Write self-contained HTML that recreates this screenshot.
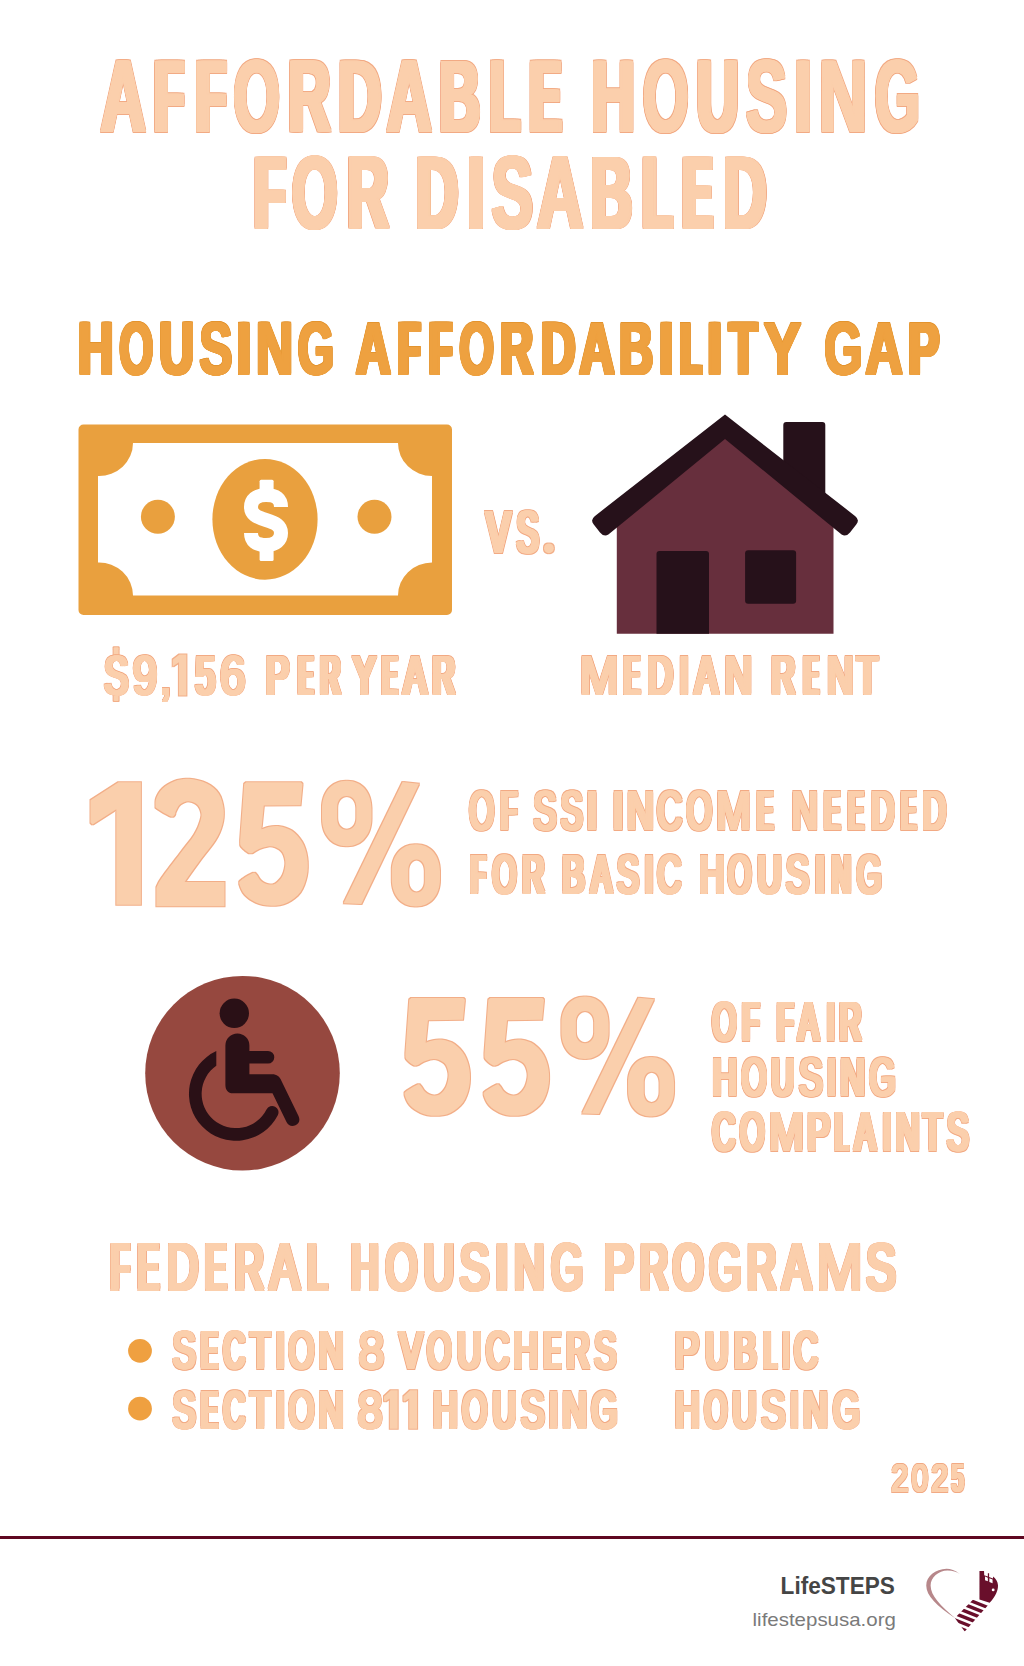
<!DOCTYPE html>
<html><head><meta charset="utf-8"><title>Affordable Housing for Disabled</title>
<style>
html,body{margin:0;padding:0;background:#fff}
body{width:1024px;height:1666px;position:relative;overflow:hidden;font-family:"Liberation Sans",sans-serif}
#art{position:absolute;left:0;top:0;width:1024px;height:1666px}
.p,.o{position:absolute;left:0;top:0;font:bold 100px/100px "Liberation Sans",sans-serif;white-space:pre;transform-origin:0 0;margin:0}
.p{color:#FBCFAC;text-shadow:calc(-1*var(--a)) calc(-1*var(--b)) 0 #FBCFAC,calc(-1*var(--a)) calc(0*var(--b)) 0 #FBCFAC,calc(-1*var(--a)) calc(1*var(--b)) 0 #FBCFAC,calc(-0.5*var(--a)) calc(-1*var(--b)) 0 #FBCFAC,calc(-0.5*var(--a)) calc(0*var(--b)) 0 #FBCFAC,calc(-0.5*var(--a)) calc(1*var(--b)) 0 #FBCFAC,calc(0*var(--a)) calc(-1*var(--b)) 0 #FBCFAC,calc(0*var(--a)) calc(1*var(--b)) 0 #FBCFAC,calc(0.5*var(--a)) calc(-1*var(--b)) 0 #FBCFAC,calc(0.5*var(--a)) calc(0*var(--b)) 0 #FBCFAC,calc(0.5*var(--a)) calc(1*var(--b)) 0 #FBCFAC,calc(1*var(--a)) calc(-1*var(--b)) 0 #FBCFAC,calc(1*var(--a)) calc(0*var(--b)) 0 #FBCFAC,calc(1*var(--a)) calc(1*var(--b)) 0 #FBCFAC,calc(-1*var(--c)) calc(-1*var(--e)) 0 #F2AA84,calc(-1*var(--c)) calc(0*var(--e)) 0 #F2AA84,calc(-1*var(--c)) calc(1*var(--e)) 0 #F2AA84,calc(-0.5*var(--c)) calc(-1*var(--e)) 0 #F2AA84,calc(-0.5*var(--c)) calc(0*var(--e)) 0 #F2AA84,calc(-0.5*var(--c)) calc(1*var(--e)) 0 #F2AA84,calc(0*var(--c)) calc(-1*var(--e)) 0 #F2AA84,calc(0*var(--c)) calc(0*var(--e)) 0 #F2AA84,calc(0*var(--c)) calc(1*var(--e)) 0 #F2AA84,calc(0.5*var(--c)) calc(-1*var(--e)) 0 #F2AA84,calc(0.5*var(--c)) calc(0*var(--e)) 0 #F2AA84,calc(0.5*var(--c)) calc(1*var(--e)) 0 #F2AA84,calc(1*var(--c)) calc(-1*var(--e)) 0 #F2AA84,calc(1*var(--c)) calc(0*var(--e)) 0 #F2AA84,calc(1*var(--c)) calc(1*var(--e)) 0 #F2AA84}
.o{color:#EEA140;text-shadow:calc(-1*var(--a)) calc(-1*var(--b)) 0 #EEA140,calc(-1*var(--a)) calc(0*var(--b)) 0 #EEA140,calc(-1*var(--a)) calc(1*var(--b)) 0 #EEA140,calc(-0.5*var(--a)) calc(-1*var(--b)) 0 #EEA140,calc(-0.5*var(--a)) calc(0*var(--b)) 0 #EEA140,calc(-0.5*var(--a)) calc(1*var(--b)) 0 #EEA140,calc(0*var(--a)) calc(-1*var(--b)) 0 #EEA140,calc(0*var(--a)) calc(1*var(--b)) 0 #EEA140,calc(0.5*var(--a)) calc(-1*var(--b)) 0 #EEA140,calc(0.5*var(--a)) calc(0*var(--b)) 0 #EEA140,calc(0.5*var(--a)) calc(1*var(--b)) 0 #EEA140,calc(1*var(--a)) calc(-1*var(--b)) 0 #EEA140,calc(1*var(--a)) calc(0*var(--b)) 0 #EEA140,calc(1*var(--a)) calc(1*var(--b)) 0 #EEA140,calc(-1*var(--c)) calc(-1*var(--e)) 0 #E3942F,calc(-1*var(--c)) calc(0*var(--e)) 0 #E3942F,calc(-1*var(--c)) calc(1*var(--e)) 0 #E3942F,calc(-0.5*var(--c)) calc(-1*var(--e)) 0 #E3942F,calc(-0.5*var(--c)) calc(0*var(--e)) 0 #E3942F,calc(-0.5*var(--c)) calc(1*var(--e)) 0 #E3942F,calc(0*var(--c)) calc(-1*var(--e)) 0 #E3942F,calc(0*var(--c)) calc(0*var(--e)) 0 #E3942F,calc(0*var(--c)) calc(1*var(--e)) 0 #E3942F,calc(0.5*var(--c)) calc(-1*var(--e)) 0 #E3942F,calc(0.5*var(--c)) calc(0*var(--e)) 0 #E3942F,calc(0.5*var(--c)) calc(1*var(--e)) 0 #E3942F,calc(1*var(--c)) calc(-1*var(--e)) 0 #E3942F,calc(1*var(--c)) calc(0*var(--e)) 0 #E3942F,calc(1*var(--c)) calc(1*var(--e)) 0 #E3942F}
.r{font-weight:normal}
.ft{position:absolute;left:0;top:0;white-space:pre;transform-origin:0 0;font-family:"Liberation Sans",sans-serif}
</style></head><body>
<svg id="art" width="1024" height="1666" viewBox="0 0 1024 1666">
<defs>
<filter id="ol" x="-5%" y="-5%" width="110%" height="110%" color-interpolation-filters="sRGB">
<feMorphology in="SourceAlpha" operator="dilate" radius="0.6" result="d"/>
<feFlood flood-color="#F2AE88"/><feComposite in2="d" operator="in" result="o"/>
<feMerge><feMergeNode in="o"/><feMergeNode in="SourceGraphic"/></feMerge>
</filter>
<g id="g1"><path d="M140.9,782.2L118.5,782.2L90.5,800.2L90.5,822.5L92.5,824.5L116.3,809.2L116.3,904.8L140.9,904.8L140.9,782.2Z"/></g>
<g id="g2"><path d="M157.3,808.7C154.7,806.8 155.7,806.9 155.5,805.2C155.4,803.4 155.3,800.9 156.4,798.1C157.6,795.3 159.5,791.3 162.6,788.5C165.7,785.6 170.5,782.6 174.9,781.0C179.3,779.4 183.7,778.4 188.9,778.8C194.2,779.2 201.5,780.7 206.5,783.2C211.5,785.7 216.0,789.3 218.8,793.7C221.7,798.1 223.1,804.4 223.7,809.6C224.2,814.7 223.7,819.4 222.3,824.5C221.0,829.6 218.8,834.6 215.3,840.3C211.8,846.0 206.4,851.8 201.2,858.8C196.1,865.7 190.1,874.3 184.6,882.1L224.5,882.1L224.5,906.2L156.4,906.2L156.4,887.8C158.2,884.5 157.7,883.8 161.7,878.1C165.7,872.4 174.7,860.7 180.2,853.5C185.6,846.3 190.8,840.5 194.2,835.0C197.6,829.6 199.2,824.8 200.4,821.0C201.5,817.2 201.8,815.0 201.2,812.2C200.7,809.4 199.1,806.1 196.9,804.3C194.7,802.4 190.8,801.2 188.1,801.2C185.3,801.2 182.2,802.6 180.2,804.3C178.1,806.0 176.6,809.6 175.8,811.3C174.9,813.0 175.7,813.5 174.9,814.4C174.1,815.2 173.9,817.4 170.9,816.4C168.0,815.5 159.9,810.5 157.3,808.7Z"/></g>
<g id="g5"><path d="M246.3,782.3L300.8,782.3L302.5,784.1L300.5,805.2L263.8,805.6L261.4,829.3C264.1,828.4 266.6,827.2 269.6,826.7C272.5,826.2 275.6,825.6 279.2,826.2C282.9,826.9 287.7,828.0 291.5,830.6C295.3,833.3 299.4,837.5 302.1,842.1C304.7,846.6 306.5,852.3 307.3,857.9C308.1,863.5 308.1,869.8 306.9,875.5C305.7,881.2 303.6,887.6 300.3,892.2C297.0,896.7 292.0,900.4 287.1,902.7C282.3,905.0 276.4,905.8 271.3,905.8C266.2,905.8 260.8,904.5 256.4,902.7C252.0,900.9 247.8,897.9 244.9,894.8C242.1,891.7 240.1,886.7 239.5,884.3C238.9,881.8 239.2,881.7 241.4,879.9C243.7,878.0 250.5,873.9 253.0,873.0C255.5,872.1 255.1,873.3 256.4,874.6C257.7,875.9 258.9,879.1 260.8,880.7C262.7,882.4 265.3,883.8 267.8,884.3C270.3,884.7 273.2,884.8 275.7,883.4C278.2,881.9 281.1,878.8 282.7,875.5C284.3,872.1 285.4,867.0 285.4,863.2C285.4,859.4 284.3,855.3 282.7,852.6C281.1,850.0 278.2,848.4 275.7,847.3C273.2,846.3 270.6,846.2 267.8,846.5C265.0,846.8 261.6,848.0 259.0,849.1C256.4,850.2 254.2,852.3 252.4,852.9C250.6,853.4 249.9,853.5 248.0,852.4C246.1,851.3 242.3,848.2 241.0,846.3C239.7,844.4 240.4,842.9 240.1,841.2L244.2,784.1L246.3,782.3Z"/></g>
<g id="gp"><path fill-rule="evenodd" d="M402.6,782.1L419.1,783.7L361.3,903.9L343.6,903.3L402.6,782.1Z"/>
<path fill-rule="evenodd" d="M346.75,780.8 C362,780.8 371.5,793 371.5,809 V818 C371.5,834 362,846.2 346.75,846.2 C331.5,846.2 322,834 322,818 V809 C322,793 331.5,780.8 346.75,780.8 Z M346.75,796 C341,796 337.2,800.5 337.2,807 V819 C337.2,825.3 341,829.7 346.75,829.7 C352.5,829.7 356.3,825.3 356.3,819 V807 C356.3,800.5 352.5,796 346.75,796 Z"/>
<path fill-rule="evenodd" d="M415.9,844.3 C430.6,844.3 440,856 440,871.5 V879.3 C440,894.8 430.6,906.5 415.9,906.5 C401.2,906.5 391.8,894.8 391.8,879.3 V871.5 C391.8,856 401.2,844.3 415.9,844.3 Z M416.5,859.5 C411.5,859.5 408.3,863.8 408.3,870 V882 C408.3,888.2 411.5,892.5 416.5,892.5 C421.6,892.5 424.8,888.2 424.8,882 V870 C424.8,863.8 421.6,859.5 416.5,859.5 Z"/></g>
</defs>
<!-- money -->
<g fill="#E9A03E">
<path fill-rule="evenodd" d="M83.5,424.5 H447 a5,5 0 0 1 5,5 V610 a5,5 0 0 1 -5,5 H83.5 a5,5 0 0 1 -5,-5 V429.5 a5,5 0 0 1 5,-5 Z
M133,443 H398 A34,33 0 0 0 432,476 V562.5 A34,33 0 0 0 398,595.5 H133 A34,33 0 0 0 98,562.5 V476 A34,33 0 0 0 133,443 Z"/>
<ellipse cx="265" cy="519.3" rx="52.6" ry="60.4"/>
<circle cx="157.9" cy="516.8" r="17"/>
<circle cx="374.5" cy="516.8" r="17"/>
</g>
<path d="M281,507 C281,499 276,495 266,495 C256,495 251,500 251,507 C251,514 256,517 266,520 C276,523 281,526 281,533 C281,540 276,545 266,545 C256,545 251,541 251,533" fill="none" stroke="#fff" stroke-width="14"/>
<rect x="259.6" y="479.8" width="14" height="14" rx="1.5" fill="#fff"/>
<rect x="259.6" y="547" width="14" height="14" rx="1.5" fill="#fff"/>
<!-- house -->
<path d="M616.8,633.8 V525 L725,432 L833.5,525 V633.8 Z" fill="#672F3D"/>
<g fill="#26111A">
<path d="M783.3,425 a3,3 0 0 1 3,-3 H822.3 a3,3 0 0 1 3,3 V500 L783.3,470 Z"/>
<path d="M725,414.6 L594.7,516.15 Q590,519.9 593.75,524.6 L600,532.4 Q603.75,537.1 608.4,534.6 L725,439 L841.6,534.6 Q846.25,537.1 850,532.4 L856.25,524.6 Q860,519.9 855.3,516.15 Z"/>
<path d="M656.5,633.8 V554 a3,3 0 0 1 3,-3 H706 a3,3 0 0 1 3,3 V633.8 Z"/>
<rect x="745.1" y="550.3" width="51" height="53.5" rx="3"/>
</g>
<!-- big numerals -->
<g fill="#FACFAC" filter="url(#ol)">
<use href="#g1"/><use href="#g2"/><use href="#g5"/><use href="#gp"/>
<use href="#g5" transform="translate(176.08,250.98) scale(0.9548)"/>
<use href="#g5" transform="translate(255.18,250.98) scale(0.9548)"/>
<use href="#gp" transform="translate(253.94,250.98) scale(0.9548)"/>
<path d="M186.4,654.4 H179.5 L172.7,659.8 V666.5 L178.9,662.3 V695.5 H186.4 Z"/>
<path id="s1" d="M397.7,1390.2 H390.8 L384,1396.5 V1400.5 L385,1401.5 L389.8,1398.4 V1428.8 H397.7 Z"/>
<use href="#s1" x="19.4"/>
<circle cx="548.9" cy="548.3" r="4.9"/>
<rect x="113.6" y="647.3" width="5" height="10" rx="1"/><rect x="113.6" y="691" width="5" height="10" rx="1"/>
</g>
<!-- wheelchair -->
<circle cx="242.5" cy="1073.2" r="97.3" fill="#96483F"/>
<g fill="#2A1016">
<circle cx="234.3" cy="1013.3" r="14.7"/>
<path d="M225.4,1045.5 a12,12 0 0 1 24,0 V1051 H268 a6.3,6.3 0 0 1 0,12.6 H249.4 V1074.3 H272 C277,1074.3 279.5,1076.5 281.5,1081 L298.5,1116 C300.5,1120.5 299,1123.5 295.5,1125.3 C292,1127 288.5,1126 286.5,1122 L272.5,1093.3 H233 C228,1093.3 225.4,1090 225.4,1085 Z"/>
</g>
<path d="M216.3,1051.1 A47,47 0 1 0 277.8,1115.2 A6.35,6.35 0 0 0 266.5,1109.4 A34.3,34.3 0 1 1 216.3,1065.7 Z" fill="#2A1016"/>
<!-- bullets -->
<circle cx="140" cy="1350.8" r="11.9" fill="#EFA040"/>
<circle cx="140" cy="1408.7" r="11.9" fill="#EFA040"/>
<!-- footer line -->
<rect x="0" y="1536" width="1024" height="3" fill="#5F0721"/>
<!-- logo -->
<g transform="translate(910,1555) scale(0.10156)">
<path d="M490,187 C445,152 400,136 360,136 C250,138 160,210 160,300 C160,400 260,500 452,628 C300,500 203,400 203,300 C203,222 280,152 370,152 C420,152 460,166 490,187 Z" fill="#B7878A"/>
</g>
<g transform="translate(950,1565) scale(0.05079)" fill="#690F2B">
<path d="M580,120 L670,120 L674,200 L745,228 L745,160 L770,160 L770,238 L845,268 L850,225 C900,270 940,320 945,400 C948,500 900,620 780,745 L580,680 Z"/>
<path d="M690,228 L745,250 L745,322 L690,300 Z M775,262 L838,286 L838,358 L775,334 Z" fill="#fff"/>
<circle cx="850" cy="490" r="28" fill="#fff"/>
<clipPath id="st"><path d="M455,680 L800,735 L290,1310 L95,1043 Z"/></clipPath>
<g clip-path="url(#st)" stroke="#690F2B" stroke-width="66" fill="none">
<path d="M260,642.5 l700,280"/><path d="M168,731.5 l700,280"/><path d="M76,820.5 l700,280"/><path d="M-16,909.5 l700,280"/><path d="M-108,998.5 l700,280"/><path d="M-200,1087.5 l700,280"/>
</g>
</g>
</svg>
<span class="p" style="--a:2.78px;--b:0.77px;--c:3.66px;--e:1.31px;transform:translate(100.72px,44.91px) scale(0.6214,1.0208)">A</span>
<span class="p" style="--a:6.04px;--b:0.77px;--c:7.21px;--e:1.31px;transform:translate(154.74px,44.91px) scale(0.4683,1.0208)">F</span>
<span class="p" style="--a:5.85px;--b:0.77px;--c:7.00px;--e:1.31px;transform:translate(196.39px,44.91px) scale(0.4752,1.0208)">F</span>
<span class="p" style="--a:2.16px;--b:0.77px;--c:3.08px;--e:1.31px;transform:translate(233.39px,44.91px) scale(0.5980,1.0208)">O</span>
<span class="p" style="--a:3.44px;--b:0.77px;--c:4.38px;--e:1.31px;transform:translate(288.15px,44.91px) scale(0.5827,1.0208)">R</span>
<span class="p" style="--a:3.17px;--b:0.77px;--c:4.09px;--e:1.31px;transform:translate(338.19px,44.91px) scale(0.5981,1.0208)">D</span>
<span class="p" style="--a:2.78px;--b:0.77px;--c:3.66px;--e:1.31px;transform:translate(386.72px,44.91px) scale(0.6214,1.0208)">A</span>
<span class="p" style="--a:3.89px;--b:0.77px;--c:4.87px;--e:1.31px;transform:translate(439.48px,44.91px) scale(0.5590,1.0208)">B</span>
<span class="p" style="--a:6.06px;--b:0.77px;--c:7.24px;--e:1.31px;transform:translate(490.50px,44.91px) scale(0.4675,1.0208)">L</span>
<span class="p" style="--a:6.41px;--b:0.77px;--c:7.61px;--e:1.31px;transform:translate(530.17px,44.91px) scale(0.4556,1.0208)">E</span>
<span class="p" style="--a:3.09px;--b:0.77px;--c:4.00px;--e:1.31px;transform:translate(591.38px,44.91px) scale(0.6025,1.0208)">H</span>
<span class="p" style="--a:2.31px;--b:0.77px;--c:3.24px;--e:1.31px;transform:translate(642.75px,44.91px) scale(0.5889,1.0208)">O</span>
<span class="p" style="--a:3.49px;--b:0.77px;--c:4.44px;--e:1.31px;transform:translate(696.60px,44.91px) scale(0.5799,1.0208)">U</span>
<span class="p" style="--a:1.84px;--b:0.77px;--c:2.72px;--e:1.31px;transform:translate(745.89px,44.91px) scale(0.6198,1.0208)">S</span>
<span class="p" style="--a:6.52px;--b:0.77px;--c:7.74px;--e:1.31px;transform:translate(796.72px,44.91px) scale(0.4500,1.0208)">I</span>
<span class="p" style="--a:2.07px;--b:0.77px;--c:2.89px;--e:1.31px;transform:translate(818.85px,44.91px) scale(0.6689,1.0208)">N</span>
<span class="p" style="--a:2.49px;--b:0.77px;--c:3.44px;--e:1.31px;transform:translate(874.82px,44.91px) scale(0.5782,1.0208)">G</span>
<span class="p" style="--a:5.10px;--b:0.76px;--c:6.19px;--e:1.30px;transform:translate(254.44px,141.07px) scale(0.5041,1.0225)">F</span>
<span class="p" style="--a:2.24px;--b:0.76px;--c:3.16px;--e:1.30px;transform:translate(291.64px,141.07px) scale(0.5935,1.0225)">O</span>
<span class="p" style="--a:3.73px;--b:0.76px;--c:4.70px;--e:1.30px;transform:translate(347.26px,141.07px) scale(0.5673,1.0225)">R</span>
<span class="p" style="--a:3.34px;--b:0.76px;--c:4.27px;--e:1.30px;transform:translate(415.77px,141.07px) scale(0.5885,1.0225)">D</span>
<span class="p" style="--a:7.13px;--b:0.76px;--c:8.36px;--e:1.30px;transform:translate(469.75px,141.07px) scale(0.4500,1.0225)">I</span>
<span class="p" style="--a:1.68px;--b:0.76px;--c:2.55px;--e:1.30px;transform:translate(491.28px,141.07px) scale(0.6308,1.0225)">S</span>
<span class="p" style="--a:2.55px;--b:0.76px;--c:3.42px;--e:1.30px;transform:translate(537.08px,141.07px) scale(0.6357,1.0225)">A</span>
<span class="p" style="--a:3.66px;--b:0.76px;--c:4.63px;--e:1.30px;transform:translate(590.82px,141.07px) scale(0.5708,1.0225)">B</span>
<span class="p" style="--a:5.80px;--b:0.76px;--c:6.95px;--e:1.30px;transform:translate(642.92px,141.07px) scale(0.4770,1.0225)">L</span>
<span class="p" style="--a:7.37px;--b:0.76px;--c:8.66px;--e:1.30px;transform:translate(683.33px,141.07px) scale(0.4257,1.0225)">E</span>
<span class="p" style="--a:3.17px;--b:0.76px;--c:4.09px;--e:1.30px;transform:translate(723.44px,141.07px) scale(0.5981,1.0225)">D</span>
<span class="o" style="--a:2.73px;--b:0.44px;--c:3.55px;--e:0.97px;transform:translate(77.94px,310.98px) scale(0.4932,0.7435)">H</span>
<span class="o" style="--a:2.63px;--b:0.44px;--c:3.55px;--e:0.97px;transform:translate(119.26px,310.98px) scale(0.4374,0.7435)">O</span>
<span class="o" style="--a:3.03px;--b:0.44px;--c:3.86px;--e:0.97px;transform:translate(159.47px,310.98px) scale(0.4792,0.7435)">U</span>
<span class="o" style="--a:1.36px;--b:0.44px;--c:2.16px;--e:0.97px;transform:translate(199.13px,310.98px) scale(0.5022,0.7435)">S</span>
<span class="o" style="--a:4.69px;--b:0.44px;--c:5.58px;--e:0.97px;transform:translate(237.50px,310.98px) scale(0.4500,0.7435)">I</span>
<span class="o" style="--a:2.41px;--b:0.44px;--c:3.19px;--e:0.97px;transform:translate(256.21px,310.98px) scale(0.5101,0.7435)">N</span>
<span class="o" style="--a:1.99px;--b:0.44px;--c:2.84px;--e:0.97px;transform:translate(297.66px,310.98px) scale(0.4680,0.7435)">G</span>
<span class="o" style="--a:3.07px;--b:0.44px;--c:3.91px;--e:0.97px;transform:translate(356.17px,310.98px) scale(0.4772,0.7435)">A</span>
<span class="o" style="--a:6.86px;--b:0.44px;--c:8.01px;--e:0.97px;transform:translate(398.46px,310.98px) scale(0.3485,0.7435)">F</span>
<span class="o" style="--a:6.59px;--b:0.44px;--c:7.71px;--e:0.97px;transform:translate(429.86px,310.98px) scale(0.3554,0.7435)">F</span>
<span class="o" style="--a:2.43px;--b:0.44px;--c:3.33px;--e:0.97px;transform:translate(459.15px,310.98px) scale(0.4465,0.7435)">O</span>
<span class="o" style="--a:3.62px;--b:0.44px;--c:4.50px;--e:0.97px;transform:translate(500.25px,310.98px) scale(0.4531,0.7435)">R</span>
<span class="o" style="--a:2.92px;--b:0.44px;--c:3.75px;--e:0.97px;transform:translate(540.57px,310.98px) scale(0.4840,0.7435)">D</span>
<span class="o" style="--a:2.87px;--b:0.44px;--c:3.69px;--e:0.97px;transform:translate(579.33px,310.98px) scale(0.4867,0.7435)">A</span>
<span class="o" style="--a:3.32px;--b:0.44px;--c:4.18px;--e:0.97px;transform:translate(619.33px,310.98px) scale(0.4657,0.7435)">B</span>
<span class="o" style="--a:4.69px;--b:0.44px;--c:5.58px;--e:0.97px;transform:translate(660.00px,310.98px) scale(0.4500,0.7435)">I</span>
<span class="o" style="--a:7.38px;--b:0.44px;--c:8.57px;--e:0.97px;transform:translate(680.63px,310.98px) scale(0.3360,0.7435)">L</span>
<span class="o" style="--a:4.97px;--b:0.44px;--c:5.86px;--e:0.97px;transform:translate(708.37px,310.98px) scale(0.4500,0.7435)">I</span>
<span class="o" style="--a:3.36px;--b:0.44px;--c:4.22px;--e:0.97px;transform:translate(728.95px,310.98px) scale(0.4640,0.7435)">T</span>
<span class="o" style="--a:1.53px;--b:0.44px;--c:2.24px;--e:0.97px;transform:translate(763.81px,310.98px) scale(0.5612,0.7435)">Y</span>
<span class="o" style="--a:1.51px;--b:0.44px;--c:2.33px;--e:0.97px;transform:translate(824.22px,310.98px) scale(0.4934,0.7435)">G</span>
<span class="o" style="--a:2.40px;--b:0.44px;--c:3.18px;--e:0.97px;transform:translate(865.55px,310.98px) scale(0.5104,0.7435)">A</span>
<span class="o" style="--a:3.35px;--b:0.44px;--c:4.21px;--e:0.97px;transform:translate(908.24px,310.98px) scale(0.4645,0.7435)">P</span>
<span class="p r" style="--a:4.89px;--b:1.09px;--c:6.42px;--e:2.07px;transform:translate(104.26px,646.48px) scale(0.3597,0.5621)">S</span>
<span class="p r" style="--a:3.09px;--b:1.09px;--c:4.33px;--e:2.07px;transform:translate(132.69px,646.48px) scale(0.4429,0.5621)">9</span>
<span class="p r" style="--a:0.00px;--b:1.09px;--c:0.83px;--e:2.07px;transform:translate(156.58px,646.48px) scale(0.6633,0.5621)">,</span>
<span class="p r" style="--a:5.91px;--b:1.09px;--c:7.49px;--e:2.07px;transform:translate(195.72px,646.48px) scale(0.3487,0.5621)">5</span>
<span class="p r" style="--a:2.73px;--b:1.09px;--c:3.91px;--e:2.07px;transform:translate(219.80px,646.48px) scale(0.4646,0.5621)">6</span>
<span class="p r" style="--a:6.08px;--b:1.09px;--c:7.68px;--e:2.07px;transform:translate(266.07px,646.48px) scale(0.3434,0.5621)">P</span>
<span class="p r" style="--a:14.80px;--b:1.09px;--c:17.70px;--e:2.07px;transform:translate(299.30px,646.48px) scale(0.1897,0.5621)">E</span>
<span class="p r" style="--a:9.19px;--b:1.09px;--c:11.26px;--e:2.07px;transform:translate(320.81px,646.48px) scale(0.2663,0.5621)">R</span>
<span class="p r" style="--a:6.33px;--b:1.09px;--c:7.97px;--e:2.07px;transform:translate(353.18px,646.48px) scale(0.3355,0.5621)">Y</span>
<span class="p r" style="--a:13.72px;--b:1.09px;--c:16.46px;--e:2.07px;transform:translate(382.91px,646.48px) scale(0.2009,0.5621)">E</span>
<span class="p r" style="--a:6.38px;--b:1.09px;--c:8.03px;--e:2.07px;transform:translate(403.86px,646.48px) scale(0.3339,0.5621)">A</span>
<span class="p r" style="--a:7.58px;--b:1.09px;--c:9.40px;--e:2.07px;transform:translate(432.86px,646.48px) scale(0.3014,0.5621)">R</span>
<span class="p r" style="--a:3.24px;--b:1.09px;--c:4.42px;--e:2.07px;transform:translate(579.84px,646.48px) scale(0.4661,0.5621)">M</span>
<span class="p r" style="--a:12.48px;--b:1.09px;--c:15.03px;--e:2.07px;transform:translate(624.57px,646.48px) scale(0.2154,0.5621)">E</span>
<span class="p r" style="--a:6.11px;--b:1.09px;--c:7.72px;--e:2.07px;transform:translate(647.94px,646.48px) scale(0.3422,0.5621)">D</span>
<span class="p r" style="--a:3.08px;--b:1.09px;--c:4.30px;--e:2.07px;transform:translate(677.79px,646.48px) scale(0.4500,0.5621)">I</span>
<span class="p r" style="--a:6.38px;--b:1.09px;--c:8.03px;--e:2.07px;transform:translate(695.11px,646.48px) scale(0.3339,0.5621)">A</span>
<span class="p r" style="--a:5.33px;--b:1.09px;--c:6.82px;--e:2.07px;transform:translate(725.09px,646.48px) scale(0.3688,0.5621)">N</span>
<span class="p r" style="--a:6.81px;--b:1.09px;--c:8.52px;--e:2.07px;transform:translate(771.70px,646.48px) scale(0.3214,0.5621)">R</span>
<span class="p r" style="--a:14.35px;--b:1.09px;--c:17.19px;--e:2.07px;transform:translate(804.54px,646.48px) scale(0.1942,0.5621)">E</span>
<span class="p r" style="--a:5.73px;--b:1.09px;--c:7.28px;--e:2.07px;transform:translate(827.47px,646.48px) scale(0.3548,0.5621)">N</span>
<span class="p r" style="--a:6.28px;--b:1.09px;--c:7.92px;--e:2.07px;transform:translate(856.93px,646.48px) scale(0.3369,0.5621)">T</span>
<span class="p r" style="--a:6.03px;--b:1.26px;--c:7.56px;--e:2.20px;transform:translate(486.43px,502.77px) scale(0.3588,0.5833)">V</span>
<span class="p r" style="--a:6.47px;--b:1.26px;--c:8.18px;--e:2.20px;transform:translate(516.85px,502.77px) scale(0.3222,0.5833)">S</span>
<span class="p r" style="--a:5.68px;--b:1.48px;--c:7.43px;--e:2.48px;transform:translate(469.46px,782.99px) scale(0.3132,0.5490)">O</span>
<span class="p r" style="--a:9.26px;--b:1.48px;--c:11.46px;--e:2.48px;transform:translate(501.02px,782.99px) scale(0.2506,0.5490)">F</span>
<span class="p r" style="--a:4.75px;--b:1.48px;--c:6.34px;--e:2.48px;transform:translate(533.45px,782.99px) scale(0.3441,0.5490)">S</span>
<span class="p r" style="--a:5.19px;--b:1.48px;--c:6.87px;--e:2.48px;transform:translate(560.75px,782.99px) scale(0.3285,0.5490)">S</span>
<span class="p r" style="--a:3.80px;--b:1.48px;--c:5.02px;--e:2.48px;transform:translate(585.62px,782.99px) scale(0.4500,0.5490)">I</span>
<span class="p r" style="--a:3.80px;--b:1.48px;--c:5.02px;--e:2.48px;transform:translate(611.87px,782.99px) scale(0.4500,0.5490)">I</span>
<span class="p r" style="--a:4.82px;--b:1.48px;--c:6.31px;--e:2.48px;transform:translate(627.11px,782.99px) scale(0.3677,0.5490)">N</span>
<span class="p r" style="--a:4.67px;--b:1.48px;--c:6.25px;--e:2.48px;transform:translate(657.00px,782.99px) scale(0.3469,0.5490)">C</span>
<span class="p r" style="--a:5.37px;--b:1.48px;--c:7.08px;--e:2.48px;transform:translate(686.77px,782.99px) scale(0.3226,0.5490)">O</span>
<span class="p r" style="--a:3.76px;--b:1.48px;--c:5.08px;--e:2.48px;transform:translate(716.21px,782.99px) scale(0.4139,0.5490)">M</span>
<span class="p r" style="--a:10.75px;--b:1.48px;--c:13.18px;--e:2.48px;transform:translate(757.38px,782.99px) scale(0.2266,0.5490)">E</span>
<span class="p r" style="--a:5.22px;--b:1.48px;--c:6.78px;--e:2.48px;transform:translate(792.00px,782.99px) scale(0.3527,0.5490)">N</span>
<span class="p r" style="--a:11.98px;--b:1.48px;--c:14.60px;--e:2.48px;transform:translate(825.09px,782.99px) scale(0.2098,0.5490)">E</span>
<span class="p r" style="--a:11.98px;--b:1.48px;--c:14.60px;--e:2.48px;transform:translate(848.84px,782.99px) scale(0.2098,0.5490)">E</span>
<span class="p r" style="--a:6.41px;--b:1.48px;--c:8.15px;--e:2.48px;transform:translate(871.24px,782.99px) scale(0.3151,0.5490)">D</span>
<span class="p r" style="--a:12.92px;--b:1.48px;--c:15.69px;--e:2.48px;transform:translate(901.99px,782.99px) scale(0.1987,0.5490)">E</span>
<span class="p r" style="--a:6.41px;--b:1.48px;--c:8.15px;--e:2.48px;transform:translate(922.99px,782.99px) scale(0.3151,0.5490)">D</span>
<span class="p r" style="--a:10.83px;--b:1.56px;--c:13.27px;--e:2.58px;transform:translate(471.14px,846.85px) scale(0.2253,0.5408)">F</span>
<span class="p r" style="--a:5.96px;--b:1.56px;--c:7.77px;--e:2.58px;transform:translate(492.54px,846.85px) scale(0.3048,0.5408)">O</span>
<span class="p r" style="--a:6.99px;--b:1.56px;--c:8.83px;--e:2.58px;transform:translate(522.69px,846.85px) scale(0.2994,0.5408)">R</span>
<span class="p r" style="--a:5.56px;--b:1.56px;--c:7.17px;--e:2.58px;transform:translate(562.15px,846.85px) scale(0.3411,0.5408)">B</span>
<span class="p r" style="--a:7.08px;--b:1.56px;--c:8.94px;--e:2.58px;transform:translate(591.34px,846.85px) scale(0.2970,0.5408)">A</span>
<span class="p r" style="--a:5.19px;--b:1.56px;--c:6.87px;--e:2.58px;transform:translate(617.00px,846.85px) scale(0.3285,0.5408)">S</span>
<span class="p r" style="--a:2.97px;--b:1.56px;--c:4.19px;--e:2.58px;transform:translate(642.75px,846.85px) scale(0.4500,0.5408)">I</span>
<span class="p r" style="--a:5.06px;--b:1.56px;--c:6.71px;--e:2.58px;transform:translate(657.14px,846.85px) scale(0.3330,0.5408)">C</span>
<span class="p r" style="--a:5.54px;--b:1.56px;--c:7.14px;--e:2.58px;transform:translate(699.64px,846.85px) scale(0.3419,0.5408)">H</span>
<span class="p r" style="--a:6.21px;--b:1.56px;--c:8.05px;--e:2.58px;transform:translate(728.00px,846.85px) scale(0.2980,0.5408)">O</span>
<span class="p r" style="--a:5.90px;--b:1.56px;--c:7.57px;--e:2.58px;transform:translate(757.46px,846.85px) scale(0.3302,0.5408)">U</span>
<span class="p r" style="--a:4.66px;--b:1.56px;--c:6.24px;--e:2.58px;transform:translate(785.92px,846.85px) scale(0.3472,0.5408)">S</span>
<span class="p r" style="--a:4.08px;--b:1.56px;--c:5.30px;--e:2.58px;transform:translate(813.75px,846.85px) scale(0.4500,0.5408)">I</span>
<span class="p r" style="--a:8.98px;--b:1.56px;--c:11.13px;--e:2.58px;transform:translate(832.00px,846.85px) scale(0.2559,0.5408)">N</span>
<span class="p r" style="--a:5.56px;--b:1.56px;--c:7.30px;--e:2.58px;transform:translate(856.83px,846.85px) scale(0.3166,0.5408)">G</span>
<span class="p r" style="--a:6.22px;--b:1.64px;--c:8.04px;--e:2.68px;transform:translate(712.51px,994.91px) scale(0.3022,0.5327)">O</span>
<span class="p r" style="--a:8.91px;--b:1.64px;--c:11.02px;--e:2.68px;transform:translate(742.64px,994.91px) scale(0.2608,0.5327)">F</span>
<span class="p r" style="--a:9.76px;--b:1.64px;--c:12.00px;--e:2.68px;transform:translate(777.63px,994.91px) scale(0.2456,0.5327)">F</span>
<span class="p r" style="--a:7.32px;--b:1.64px;--c:9.19px;--e:2.68px;transform:translate(798.65px,994.91px) scale(0.2953,0.5327)">A</span>
<span class="p r" style="--a:2.86px;--b:1.64px;--c:4.08px;--e:2.68px;transform:translate(824.50px,994.91px) scale(0.4500,0.5327)">I</span>
<span class="p r" style="--a:7.32px;--b:1.64px;--c:9.18px;--e:2.68px;transform:translate(839.79px,994.91px) scale(0.2954,0.5327)">R</span>
<span class="p r" style="--a:5.95px;--b:1.59px;--c:7.60px;--e:2.62px;transform:translate(712.70px,1049.81px) scale(0.3333,0.5376)">H</span>
<span class="p r" style="--a:5.86px;--b:1.59px;--c:7.62px;--e:2.62px;transform:translate(741.91px,1049.81px) scale(0.3124,0.5376)">O</span>
<span class="p r" style="--a:6.90px;--b:1.59px;--c:8.70px;--e:2.62px;transform:translate(771.71px,1049.81px) scale(0.3059,0.5376)">U</span>
<span class="p r" style="--a:4.64px;--b:1.59px;--c:6.19px;--e:2.62px;transform:translate(799.06px,1049.81px) scale(0.3534,0.5376)">S</span>
<span class="p r" style="--a:2.86px;--b:1.59px;--c:4.08px;--e:2.62px;transform:translate(825.29px,1049.81px) scale(0.4500,0.5376)">I</span>
<span class="p r" style="--a:5.95px;--b:1.59px;--c:7.60px;--e:2.62px;transform:translate(840.60px,1049.81px) scale(0.3333,0.5376)">N</span>
<span class="p r" style="--a:5.22px;--b:1.59px;--c:6.87px;--e:2.62px;transform:translate(869.52px,1049.81px) scale(0.3327,0.5376)">G</span>
<span class="p r" style="--a:5.76px;--b:1.64px;--c:7.51px;--e:2.68px;transform:translate(712.26px,1104.81px) scale(0.3154,0.5327)">C</span>
<span class="p r" style="--a:5.92px;--b:1.64px;--c:7.69px;--e:2.68px;transform:translate(740.13px,1104.81px) scale(0.3107,0.5327)">O</span>
<span class="p r" style="--a:3.84px;--b:1.64px;--c:5.16px;--e:2.68px;transform:translate(769.14px,1104.81px) scale(0.4157,0.5327)">M</span>
<span class="p r" style="--a:5.85px;--b:1.64px;--c:7.48px;--e:2.68px;transform:translate(807.56px,1104.81px) scale(0.3365,0.5327)">P</span>
<span class="p r" style="--a:11.51px;--b:1.64px;--c:14.02px;--e:2.68px;transform:translate(835.47px,1104.81px) scale(0.2190,0.5327)">L</span>
<span class="p r" style="--a:7.25px;--b:1.64px;--c:9.10px;--e:2.68px;transform:translate(855.24px,1104.81px) scale(0.2970,0.5327)">A</span>
<span class="p r" style="--a:2.86px;--b:1.64px;--c:4.08px;--e:2.68px;transform:translate(880.69px,1104.81px) scale(0.4500,0.5327)">I</span>
<span class="p r" style="--a:6.45px;--b:1.64px;--c:8.18px;--e:2.68px;transform:translate(896.09px,1104.81px) scale(0.3183,0.5327)">N</span>
<span class="p r" style="--a:7.53px;--b:1.64px;--c:9.43px;--e:2.68px;transform:translate(923.80px,1104.81px) scale(0.2903,0.5327)">T</span>
<span class="p r" style="--a:5.48px;--b:1.64px;--c:7.17px;--e:2.68px;transform:translate(947.03px,1104.81px) scale(0.3243,0.5327)">S</span>
<span class="p r" style="--a:8.87px;--b:1.65px;--c:10.76px;--e:2.49px;transform:translate(111.04px,1234.02px) scale(0.2911,0.6520)">F</span>
<span class="p r" style="--a:8.31px;--b:1.65px;--c:10.12px;--e:2.49px;transform:translate(138.08px,1234.02px) scale(0.3036,0.6520)">E</span>
<span class="p r" style="--a:4.35px;--b:1.65px;--c:5.61px;--e:2.49px;transform:translate(166.87px,1234.02px) scale(0.4365,0.6520)">D</span>
<span class="p r" style="--a:8.31px;--b:1.65px;--c:10.12px;--e:2.49px;transform:translate(205.48px,1234.02px) scale(0.3036,0.6520)">E</span>
<span class="p r" style="--a:5.06px;--b:1.65px;--c:6.42px;--e:2.49px;transform:translate(234.68px,1234.02px) scale(0.4048,0.6520)">R</span>
<span class="p r" style="--a:4.29px;--b:1.65px;--c:5.54px;--e:2.49px;transform:translate(269.95px,1234.02px) scale(0.4394,0.6520)">A</span>
<span class="p r" style="--a:6.63px;--b:1.65px;--c:8.20px;--e:2.49px;transform:translate(307.40px,1234.02px) scale(0.3487,0.6520)">L</span>
<span class="p r" style="--a:5.56px;--b:1.65px;--c:6.99px;--e:2.49px;transform:translate(350.93px,1234.02px) scale(0.3849,0.6520)">H</span>
<span class="p r" style="--a:4.31px;--b:1.65px;--c:5.64px;--e:2.49px;transform:translate(385.49px,1234.02px) scale(0.4109,0.6520)">O</span>
<span class="p r" style="--a:4.52px;--b:1.65px;--c:5.81px;--e:2.49px;transform:translate(423.39px,1234.02px) scale(0.4283,0.6520)">U</span>
<span class="p r" style="--a:3.46px;--b:1.65px;--c:4.68px;--e:2.49px;transform:translate(459.34px,1234.02px) scale(0.4532,0.6520)">S</span>
<span class="p r" style="--a:5.74px;--b:1.65px;--c:6.97px;--e:2.49px;transform:translate(495.60px,1234.02px) scale(0.4500,0.6520)">I</span>
<span class="p r" style="--a:4.72px;--b:1.65px;--c:6.03px;--e:2.49px;transform:translate(514.09px,1234.02px) scale(0.4194,0.6520)">N</span>
<span class="p r" style="--a:4.25px;--b:1.65px;--c:5.58px;--e:2.49px;transform:translate(551.04px,1234.02px) scale(0.4132,0.6520)">G</span>
<span class="p r" style="--a:3.85px;--b:1.65px;--c:5.04px;--e:2.49px;transform:translate(603.54px,1234.02px) scale(0.4621,0.6520)">P</span>
<span class="p r" style="--a:5.44px;--b:1.65px;--c:6.85px;--e:2.49px;transform:translate(640.07px,1234.02px) scale(0.3896,0.6520)">R</span>
<span class="p r" style="--a:4.55px;--b:1.65px;--c:5.92px;--e:2.49px;transform:translate(672.53px,1234.02px) scale(0.4000,0.6520)">O</span>
<span class="p r" style="--a:4.10px;--b:1.65px;--c:5.41px;--e:2.49px;transform:translate(708.97px,1234.02px) scale(0.4204,0.6520)">G</span>
<span class="p r" style="--a:5.06px;--b:1.65px;--c:6.42px;--e:2.49px;transform:translate(747.08px,1234.02px) scale(0.4048,0.6520)">R</span>
<span class="p r" style="--a:4.63px;--b:1.65px;--c:5.92px;--e:2.49px;transform:translate(782.42px,1234.02px) scale(0.4236,0.6520)">A</span>
<span class="p r" style="--a:2.40px;--b:1.65px;--c:3.39px;--e:2.49px;transform:translate(816.32px,1234.02px) scale(0.5565,0.6520)">M</span>
<span class="p r" style="--a:3.46px;--b:1.65px;--c:4.68px;--e:2.49px;transform:translate(865.84px,1234.02px) scale(0.4532,0.6520)">S</span>
<span class="p r" style="--a:4.52px;--b:1.73px;--c:6.10px;--e:2.78px;transform:translate(172.52px,1323.67px) scale(0.3472,0.5245)">S</span>
<span class="p r" style="--a:10.16px;--b:1.73px;--c:12.53px;--e:2.78px;transform:translate(201.61px,1323.67px) scale(0.2321,0.5245)">E</span>
<span class="p r" style="--a:6.01px;--b:1.73px;--c:7.85px;--e:2.78px;transform:translate(223.42px,1323.67px) scale(0.2987,0.5245)">C</span>
<span class="p r" style="--a:6.16px;--b:1.73px;--c:7.89px;--e:2.78px;transform:translate(250.61px,1323.67px) scale(0.3178,0.5245)">T</span>
<span class="p r" style="--a:2.86px;--b:1.73px;--c:4.08px;--e:2.78px;transform:translate(274.00px,1323.67px) scale(0.4500,0.5245)">I</span>
<span class="p r" style="--a:5.02px;--b:1.73px;--c:6.69px;--e:2.78px;transform:translate(288.65px,1323.67px) scale(0.3294,0.5245)">O</span>
<span class="p r" style="--a:5.45px;--b:1.73px;--c:7.07px;--e:2.78px;transform:translate(318.82px,1323.67px) scale(0.3398,0.5245)">N</span>
<span class="p r" style="--a:1.98px;--b:1.73px;--c:3.13px;--e:2.78px;transform:translate(358.14px,1323.67px) scale(0.4787,0.5245)">8</span>
<span class="p r" style="--a:5.52px;--b:1.73px;--c:7.15px;--e:2.78px;transform:translate(399.75px,1323.67px) scale(0.3375,0.5245)">V</span>
<span class="p r" style="--a:5.66px;--b:1.73px;--c:7.44px;--e:2.78px;transform:translate(427.25px,1323.67px) scale(0.3090,0.5245)">O</span>
<span class="p r" style="--a:5.65px;--b:1.73px;--c:7.30px;--e:2.78px;transform:translate(457.07px,1323.67px) scale(0.3333,0.5245)">U</span>
<span class="p r" style="--a:5.27px;--b:1.73px;--c:6.98px;--e:2.78px;transform:translate(485.90px,1323.67px) scale(0.3210,0.5245)">C</span>
<span class="p r" style="--a:5.52px;--b:1.73px;--c:7.15px;--e:2.78px;transform:translate(513.54px,1323.67px) scale(0.3376,0.5245)">H</span>
<span class="p r" style="--a:10.02px;--b:1.73px;--c:12.37px;--e:2.78px;transform:translate(544.38px,1323.67px) scale(0.2344,0.5245)">E</span>
<span class="p r" style="--a:6.13px;--b:1.73px;--c:7.85px;--e:2.78px;transform:translate(566.49px,1323.67px) scale(0.3186,0.5245)">R</span>
<span class="p r" style="--a:4.86px;--b:1.73px;--c:6.50px;--e:2.78px;transform:translate(594.14px,1323.67px) scale(0.3347,0.5245)">S</span>
<span class="p r" style="--a:4.72px;--b:1.73px;--c:6.22px;--e:2.78px;transform:translate(674.88px,1323.67px) scale(0.3662,0.5245)">P</span>
<span class="p r" style="--a:6.35px;--b:1.73px;--c:8.11px;--e:2.78px;transform:translate(705.43px,1323.67px) scale(0.3122,0.5245)">U</span>
<span class="p r" style="--a:5.35px;--b:1.73px;--c:6.95px;--e:2.78px;transform:translate(733.97px,1323.67px) scale(0.3434,0.5245)">B</span>
<span class="p r" style="--a:12.40px;--b:1.73px;--c:15.13px;--e:2.78px;transform:translate(764.50px,1323.67px) scale(0.2017,0.5245)">L</span>
<span class="p r" style="--a:2.08px;--b:1.73px;--c:3.30px;--e:2.78px;transform:translate(779.85px,1323.67px) scale(0.4500,0.5245)">I</span>
<span class="p r" style="--a:5.04px;--b:1.73px;--c:6.72px;--e:2.78px;transform:translate(794.03px,1323.67px) scale(0.3284,0.5245)">C</span>
<span class="p r" style="--a:4.52px;--b:1.75px;--c:6.10px;--e:2.80px;transform:translate(172.52px,1383.20px) scale(0.3472,0.5229)">S</span>
<span class="p r" style="--a:10.16px;--b:1.75px;--c:12.53px;--e:2.80px;transform:translate(201.61px,1383.20px) scale(0.2321,0.5229)">E</span>
<span class="p r" style="--a:6.01px;--b:1.75px;--c:7.85px;--e:2.80px;transform:translate(223.42px,1383.20px) scale(0.2987,0.5229)">C</span>
<span class="p r" style="--a:6.16px;--b:1.75px;--c:7.89px;--e:2.80px;transform:translate(250.61px,1383.20px) scale(0.3178,0.5229)">T</span>
<span class="p r" style="--a:2.86px;--b:1.75px;--c:4.08px;--e:2.80px;transform:translate(274.00px,1383.20px) scale(0.4500,0.5229)">I</span>
<span class="p r" style="--a:5.02px;--b:1.75px;--c:6.69px;--e:2.80px;transform:translate(288.65px,1383.20px) scale(0.3294,0.5229)">O</span>
<span class="p r" style="--a:5.45px;--b:1.75px;--c:7.07px;--e:2.80px;transform:translate(318.82px,1383.20px) scale(0.3398,0.5229)">N</span>
<span class="p r" style="--a:2.30px;--b:1.75px;--c:3.50px;--e:2.80px;transform:translate(357.33px,1383.20px) scale(0.4574,0.5229)">8</span>
<span class="p r" style="--a:5.52px;--b:1.75px;--c:7.15px;--e:2.80px;transform:translate(433.14px,1383.20px) scale(0.3376,0.5229)">H</span>
<span class="p r" style="--a:5.33px;--b:1.75px;--c:7.05px;--e:2.80px;transform:translate(462.35px,1383.20px) scale(0.3192,0.5229)">O</span>
<span class="p r" style="--a:6.06px;--b:1.75px;--c:7.77px;--e:2.80px;transform:translate(492.82px,1383.20px) scale(0.3207,0.5229)">U</span>
<span class="p r" style="--a:4.25px;--b:1.75px;--c:5.79px;--e:2.80px;transform:translate(520.82px,1383.20px) scale(0.3576,0.5229)">S</span>
<span class="p r" style="--a:2.86px;--b:1.75px;--c:4.08px;--e:2.80px;transform:translate(547.19px,1383.20px) scale(0.4500,0.5229)">I</span>
<span class="p r" style="--a:5.52px;--b:1.75px;--c:7.15px;--e:2.80px;transform:translate(562.34px,1383.20px) scale(0.3376,0.5229)">N</span>
<span class="p r" style="--a:4.81px;--b:1.75px;--c:6.45px;--e:2.80px;transform:translate(591.29px,1383.20px) scale(0.3363,0.5229)">G</span>
<span class="p r" style="--a:5.65px;--b:1.75px;--c:7.30px;--e:2.80px;transform:translate(675.30px,1383.20px) scale(0.3333,0.5229)">H</span>
<span class="p r" style="--a:6.32px;--b:1.75px;--c:8.22px;--e:2.80px;transform:translate(704.52px,1383.20px) scale(0.2903,0.5229)">O</span>
<span class="p r" style="--a:5.68px;--b:1.75px;--c:7.34px;--e:2.80px;transform:translate(732.38px,1383.20px) scale(0.3323,0.5229)">U</span>
<span class="p r" style="--a:4.00px;--b:1.75px;--c:5.49px;--e:2.80px;transform:translate(761.03px,1383.20px) scale(0.3680,0.5229)">S</span>
<span class="p r" style="--a:2.41px;--b:1.75px;--c:3.63px;--e:2.80px;transform:translate(788.10px,1383.20px) scale(0.4500,0.5229)">I</span>
<span class="p r" style="--a:5.68px;--b:1.75px;--c:7.34px;--e:2.80px;transform:translate(803.46px,1383.20px) scale(0.3323,0.5229)">N</span>
<span class="p r" style="--a:4.57px;--b:1.75px;--c:6.16px;--e:2.80px;transform:translate(832.90px,1383.20px) scale(0.3453,0.5229)">G</span>
<span class="p r" style="--a:3.25px;--b:1.58px;--c:5.04px;--e:3.03px;transform:translate(891.26px,1459.14px) scale(0.3080,0.3807)">2</span>
<span class="p r" style="--a:2.74px;--b:1.58px;--c:4.60px;--e:3.03px;transform:translate(911.61px,1459.14px) scale(0.2956,0.3807)">0</span>
<span class="p r" style="--a:3.47px;--b:1.58px;--c:5.31px;--e:3.03px;transform:translate(931.34px,1459.14px) scale(0.2997,0.3807)">2</span>
<span class="p r" style="--a:6.79px;--b:1.58px;--c:9.37px;--e:3.03px;transform:translate(951.75px,1459.14px) scale(0.2132,0.3807)">5</span>
<span class="ft" style="font-weight:bold;font-size:23.2px;line-height:30px;color:#454545;transform:translate(780.6px,1570.55px) scale(0.975,1)">LifeSTEPS</span>
<span class="ft" style="font-size:18.2px;line-height:24px;color:#7a7a7a;transform:translate(752.55px,1608.1px) scale(1.125,1)">lifestepsusa.org</span>
</body></html>
